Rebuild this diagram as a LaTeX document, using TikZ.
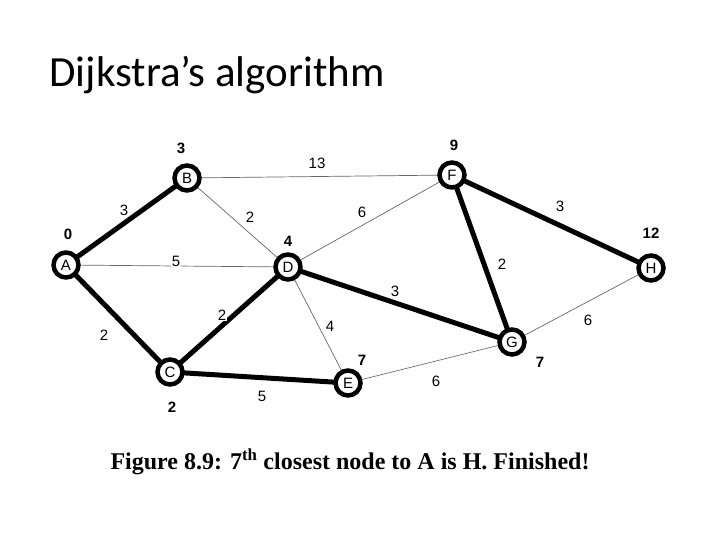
\documentclass[tikz,border=0pt]{standalone}
\usepackage{fontspec}
\setmainfont{Liberation Sans}
\newfontfamily\titlefont{Carlito}
\newfontfamily\capfont{Liberation Serif}
\begin{document}
\begin{tikzpicture}[x=1pt,y=-1pt,
  vtx/.style={circle,draw,line width=4.5pt,fill=white,minimum size=25pt,inner sep=0pt,font=\fontsize{15}{15}\selectfont},
  thin/.style={draw=gray!80!black,line width=0.7pt},
  thick/.style={draw=black,line width=5pt},
  el/.style={font=\fontsize{15}{15}\selectfont,fill=white,inner sep=1pt},
  dl/.style={font=\bfseries\fontsize{15}{15}\selectfont}]
\useasboundingbox (0,0) rectangle (728,546);
\node[anchor=west,font=\titlefont\fontsize{43}{43}\selectfont] (title) at (46,75) {Dijkstra’s algorithm};
\coordinate (pA) at (66,265); \coordinate (pB) at (187,178); \coordinate (pF) at (452,175);
\coordinate (pH) at (651,268); \coordinate (pD) at (288,267); \coordinate (pC) at (170,372);
\coordinate (pE) at (348,383); \coordinate (pG) at (512,342);
\draw[thin] (pB)--(pF); \draw[thin] (pB)--(pD); \draw[thin] (pA)--(pD); \draw[thin] (pD)--(pF);
\draw[thin] (pD)--(pE); \draw[thin] (pE)--(pG); \draw[thin] (pG)--(pH);
\draw[thick] (pA)--(pB); \draw[thick] (pA)--(pC); \draw[thick] (pC)--(pD); \draw[thick] (pC)--(pE);
\draw[thick] (pD)--(pG); \draw[thick] (pF)--(pG); \draw[thick] (pF)--(pH);
\foreach \n in {A,B,C,D,E,F,G,H} \node[vtx] (\n) at (p\n) {\n};
\node[el] (l1) at (124,210) {3}; \node[el] (l2) at (317,163) {13};
\node[el] (l3) at (250,217) {2}; \node[el] (l4) at (362,212) {6};
\node[el] (l5) at (560,206) {3}; \node[el] (l6) at (176,261) {5};
\node[el] (l7) at (502,264) {2}; \node[el] (l8) at (395,291) {3};
\node[el] (l9) at (222,315) {2}; \node[el] (l10) at (330,326) {4};
\node[el] (l11) at (588,320) {6}; \node[el] (l12) at (104,335) {2};
\node[el] (l13) at (262,396) {5}; \node[el] (l14) at (436,381) {6};
\node[dl] (dA) at (68,234) {0}; \node[dl] (dB) at (181,148) {3};
\node[dl] (dF) at (454,145) {9}; \node[dl] (dH) at (651,233) {12};
\node[dl] (dD) at (288,241) {4}; \node[dl] (dC) at (172,407) {2};
\node[dl] (dE) at (362,360) {7}; \node[dl] (dG) at (540,362) {7};
\node[font=\capfont\bfseries\fontsize{24}{24}\selectfont] (cap) at (350,462) {Figure 8.9: 7\textsuperscript{th} closest node to A is H. Finished!};
\end{tikzpicture}
\end{document}
